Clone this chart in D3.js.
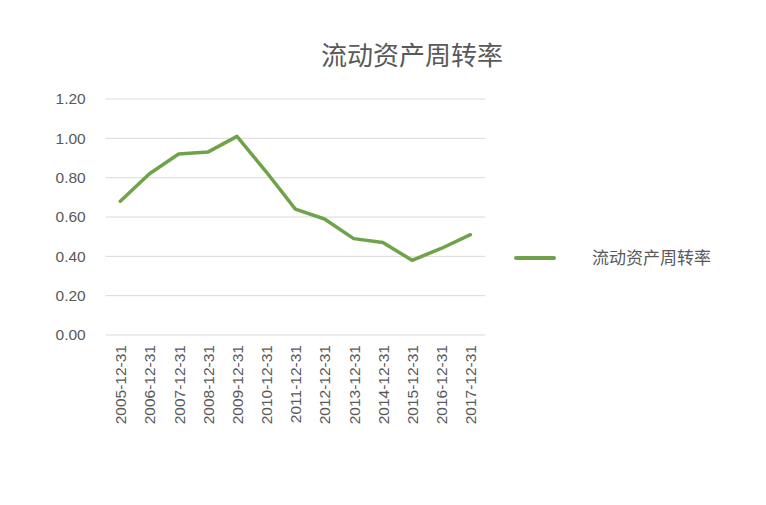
<!DOCTYPE html>
<html><head><meta charset="utf-8">
<script src="https://cdn.jsdelivr.net/npm/d3@7"></script>
<style>body{margin:0;background:#fff;} svg{display:block;}</style>
</head><body>
<svg id="c" width="766" height="505"></svg>
<script>
const categories = ["2005-12-31","2006-12-31","2007-12-31","2008-12-31","2009-12-31","2010-12-31","2011-12-31","2012-12-31","2013-12-31","2014-12-31","2015-12-31","2016-12-31","2017-12-31"];
const values = [0.68,0.82,0.92,0.93,1.01,0.83,0.64,0.59,0.49,0.47,0.38,0.44,0.51];
const yTicks = [0,0.2,0.4,0.6,0.8,1.0,1.2];
const seriesName = "流动资产周转率";
const title = "流动资产周转率";

(function(){
const svg = d3.select("#c");
const font = "'Liberation Sans','Noto Sans CJK SC',sans-serif";
const cjk = "'Noto Sans CJK SC',sans-serif";
const pl = 105.7, pr = 485, pt = 99, pb = 335;
const x = d3.scalePoint().domain(categories).range([pl, pr]).padding(0.5);
const y = d3.scaleLinear().domain([0,1.2]).range([pb, pt]);

svg.append("rect").attr("width",766).attr("height",505).attr("fill","#fff");

// grid
svg.append("g").selectAll("line").data(yTicks).join("line")
  .attr("x1",pl).attr("x2",pr)
  .attr("y1",d=>y(d)).attr("y2",d=>y(d))
  .attr("stroke","#d9d9d9").attr("stroke-width",1);

// y axis
const ya = svg.append("g").attr("transform",`translate(${pl-20},0)`)
  .call(d3.axisLeft(y).tickValues(yTicks).tickFormat(d3.format(".2f")).tickSize(0).tickPadding(0));
ya.select(".domain").remove();
ya.selectAll("text").attr("fill","#595959").style("font-family",font).style("font-size","15.5px");

// x axis
const xa = svg.append("g").attr("transform",`translate(0,${pb+10})`)
  .call(d3.axisBottom(x).tickSize(0).tickPadding(0));
xa.select(".domain").remove();
xa.selectAll("text").attr("fill","#595959").style("font-family",font).style("font-size","15.5px")
  .attr("transform","rotate(-90)").attr("text-anchor","end").attr("x",0).attr("y",0).attr("dy","0.35em");

// line
svg.append("path").datum(values)
  .attr("d", d3.line().x((d,i)=>x(categories[i])).y(d=>y(d)))
  .attr("fill","none").attr("stroke","#6fa34a").attr("stroke-width",3.5)
  .attr("stroke-linejoin","round").attr("stroke-linecap","round");

// title
svg.append("text").attr("x",412).attr("y",65).attr("text-anchor","middle")
  .attr("fill","#595959").style("font-family",cjk).style("font-size","26px").text(title);

// legend
svg.append("line").attr("x1",516).attr("x2",554).attr("y1",258).attr("y2",258)
  .attr("stroke","#6fa34a").attr("stroke-width",4).attr("stroke-linecap","round");
svg.append("text").attr("x",592).attr("y",258).attr("dy","0.35em")
  .attr("fill","#595959").style("font-family",cjk).style("font-size","17px").text(seriesName);
})();
</script>
</body></html>
